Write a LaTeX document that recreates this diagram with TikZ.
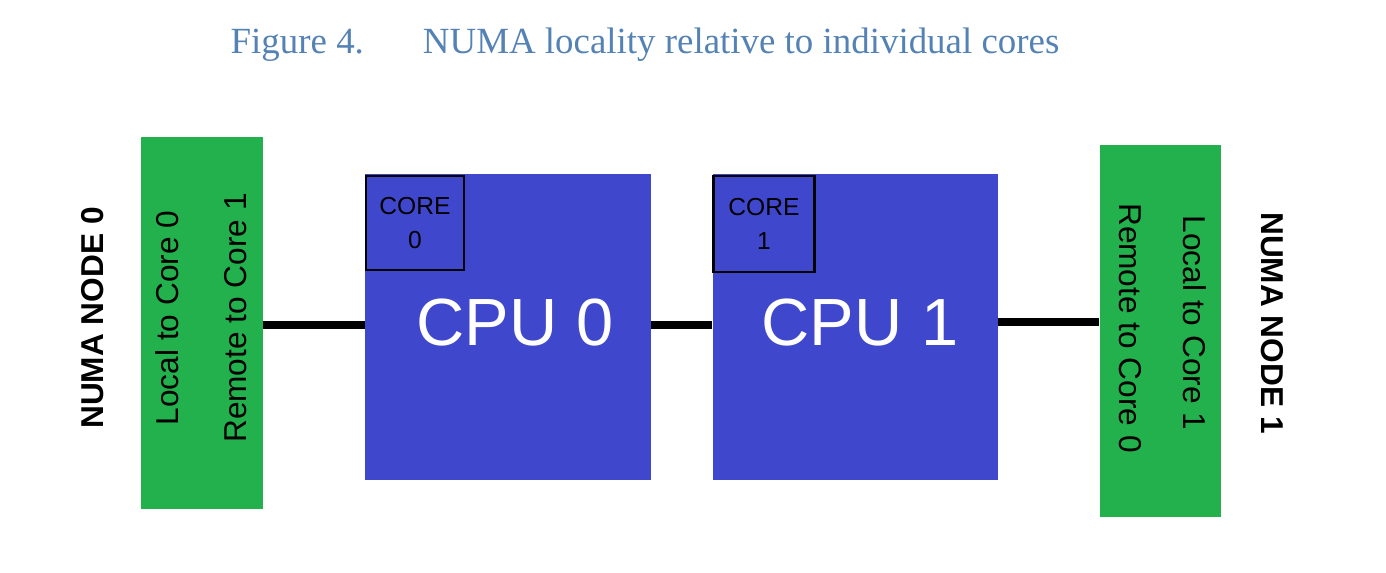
\documentclass[tikz,border=0pt]{standalone}
\usepackage{fontspec}
\setmainfont{Liberation Serif}
\newfontfamily\sans{Liberation Sans}
\begin{document}
\begin{tikzpicture}[x=0.02cm,y=-0.02cm,
  green box/.style={fill={rgb,255:red,34;green,177;blue,76},draw=none},
  cpu/.style={fill={rgb,255:red,63;green,72;blue,204},draw=none},
  core/.style={draw=black,line width=1.2pt,fill={rgb,255:red,63;green,72;blue,204},font=\sans\fontsize{14}{15}\selectfont,align=center,text=black},
  gtxt/.style={font=\sans\fontsize{18}{20}\selectfont,text=black},
  ntxt/.style={font=\sans\bfseries\fontsize{18}{20}\selectfont,text=black},
  bigt/.style={font=\sans\fontsize{38}{40}\selectfont,text=white},
  link/.style={line width=5pt,draw=black}]
\useasboundingbox (0,0) rectangle (1386,573);
\node[font=\fontsize{21}{24}\selectfont,text={rgb,255:red,84;green,130;blue,180}] (title) at (645,45) {Figure 4.\hspace{1.6em}NUMA locality relative to individual cores};
\path[green box] (141,137) rectangle (263,509) coordinate (gl);
\node[green box,minimum width=122*0.02cm,minimum height=372*0.02cm,inner sep=0] (g0) at (202,323) {};
\node[green box,minimum width=121*0.02cm,minimum height=372*0.02cm,inner sep=0] (g1) at (1160,331) {};
\node[cpu,minimum width=286*0.02cm,minimum height=306*0.02cm,inner sep=0] (c0) at (508,327) {};
\node[cpu,minimum width=285*0.02cm,minimum height=306*0.02cm,inner sep=0] (c1) at (855,327) {};
\node[core,minimum width=98*0.02cm,minimum height=94*0.02cm,inner sep=0] (k0) at (415,223) {CORE\\[4pt]0};
\node[core,minimum width=101*0.02cm,minimum height=96*0.02cm,inner sep=0] (k1) at (764,224) {CORE\\[4pt]1};
\node[bigt] (t0) at (515,323) {CPU 0};
\node[bigt] (t1) at (860,323) {CPU 1};
\node[ntxt,rotate=90] (n0) at (93,318) {NUMA NODE 0};
\node[ntxt,rotate=-90] (n1) at (1272,323) {NUMA NODE 1};
\node[gtxt,rotate=90] (l0) at (167,318) {Local to Core 0};
\node[gtxt,rotate=90] (r0) at (236,318) {Remote to Core 1};
\node[gtxt,rotate=-90] (l1) at (1195,323) {Local to Core 1};
\node[gtxt,rotate=-90] (r1) at (1130,328) {Remote to Core 0};
\draw[link] (g0.east |- 0,325) -- (c0.west |- 0,325);
\draw[link] (c0.east |- 0,325) -- (c1.west |- 0,325);
\draw[link] (c1.east |- 0,322) -- (g1.west |- 0,322);
\end{tikzpicture}
\end{document}
